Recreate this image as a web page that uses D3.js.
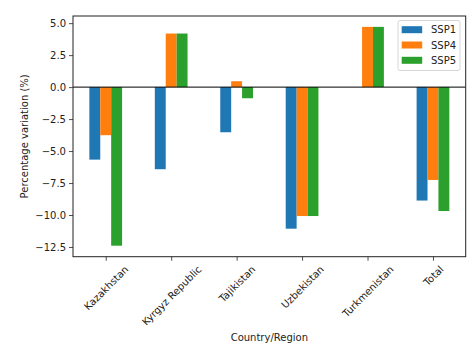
<!DOCTYPE html>
<html><head><meta charset="utf-8">
<script src="https://cdn.jsdelivr.net/npm/d3@7"></script>
<style>body{margin:0;background:#fff}svg{display:block}text{font-family:"DejaVu Sans",sans-serif;fill:#222}</style>
</head><body>
<script>
const categories = ["Kazakhstan","Kyrgyz Republic","Tajikistan","Uzbekistan","Turkmenistan","Total"];
const seriesNames = ["SSP1","SSP4","SSP5"];
const ssp1 = [-5.67,-6.42,-3.53,-11.07,0,-8.87];
const ssp4 = [-3.76,4.19,0.46,-10.08,4.71,-7.26];
const ssp5 = [-12.4,4.19,-0.87,-10.08,4.71,-9.69];
const yTicks = [5.0,2.5,0.0,-2.5,-5.0,-7.5,-10.0,-12.5];
const colors = ["#1f77b4","#ff7f0e","#2ca02c"];
const series = [ssp1,ssp4,ssp5];

const W=474,H=357;
const m={left:73,right:465.7,top:16,bottom:256.7};
const svg=d3.select("body").append("svg").attr("width",W).attr("height",H);
const x=d3.scaleLinear().domain([-0.5,5.5]).range([m.left,m.right]);
const y=d3.scaleLinear().domain([-13.26,5.56]).range([m.bottom,m.top]);
const bw=0.5/3;

series.forEach((s,si)=>{
  svg.append("g").selectAll("rect").data(s).join("rect")
    .attr("x",(d,i)=>x(i-0.25+si*bw))
    .attr("width",x(bw)-x(0))
    .attr("y",d=>y(Math.max(0,d)))
    .attr("height",d=>Math.abs(y(d)-y(0)))
    .attr("fill",colors[si]);
});

// zero line
svg.append("line").attr("x1",m.left).attr("x2",m.right).attr("y1",y(0)).attr("y2",y(0))
  .attr("stroke","#000").attr("stroke-width",1);

// axes
const ya=svg.append("g").attr("transform",`translate(${m.left},0)`)
  .call(d3.axisLeft(y).tickValues(yTicks).tickFormat(d=>d3.format(".1f")(d).replace("-","\u2212")).tickSize(4).tickPadding(3));
ya.select(".domain").remove();
const xa=svg.append("g").attr("transform",`translate(0,${m.bottom})`)
  .call(d3.axisBottom(x).tickValues(d3.range(categories.length)).tickFormat(i=>categories[i]).tickSize(4));
xa.select(".domain").remove();
svg.selectAll(".tick text").style("font-size","10px").style("font-family","DejaVu Sans").attr("fill","#222");
svg.selectAll(".tick line").attr("stroke","#222").attr("stroke-width",0.8);
// rotate x labels about their centre (matplotlib rotation=45, ha=center)
xa.selectAll(".tick text").each(function(){
  const t=d3.select(this);
  const w=this.getComputedTextLength(), h=10*0.95;
  const half=(w+h)*Math.SQRT1_2/2;
  const cy=4+3.5+half;
  t.attr("y",0).attr("dy","0.35em").attr("text-anchor","middle")
   .attr("transform",`translate(0,${cy}) rotate(-45)`);
});

svg.append("rect").attr("x",m.left).attr("y",m.top).attr("width",m.right-m.left).attr("height",m.bottom-m.top)
  .attr("fill","none").attr("stroke","#222").attr("stroke-width",1);

// labels
svg.append("text").attr("x",(m.left+m.right)/2).attr("y",341).attr("text-anchor","middle")
  .style("font-size","10px").text("Country/Region");
svg.append("text").attr("transform",`translate(28,${(m.top+m.bottom)/2}) rotate(-90)`).attr("text-anchor","middle")
  .style("font-size","10px").text("Percentage variation (%)");

// legend
const lg=svg.append("g");
lg.append("rect").attr("x",398).attr("y",20.5).attr("width",62).attr("height",50).attr("rx",2)
  .attr("fill","#fff").attr("fill-opacity",0.8).attr("stroke","#ccc").attr("stroke-width",0.8);
seriesNames.forEach((n,i)=>{
  const cy=29.7+i*15.3;
  lg.append("rect").attr("x",401.7).attr("y",cy-3.5).attr("width",20.5).attr("height",7).attr("fill",colors[i]);
  lg.append("text").attr("x",431).attr("y",cy+3.5).style("font-size","10px").text(n);
});
</script>
</body></html>
